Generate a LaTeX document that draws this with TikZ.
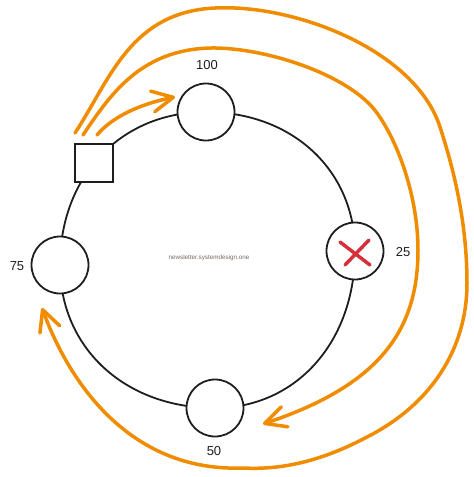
\documentclass[tikz,border=0pt]{standalone}
\usepackage{fontspec}
\setmainfont{Liberation Sans}
\usetikzlibrary{arrows.meta}
\definecolor{ring}{HTML}{1E1E1E}
\definecolor{orng}{HTML}{F08C00}
\definecolor{xred}{HTML}{D6313B}
\definecolor{wmark}{HTML}{7A6A66}
\tikzset{
  ringline/.style={draw=ring, line width=1.8pt},
  server/.style={circle, draw=ring, fill=white, line width=1.8pt, minimum size=57pt, inner sep=0pt},
  client/.style={rectangle, draw=ring, fill=white, line width=1.8pt, minimum size=38pt, inner sep=0pt},
  lbl/.style={font=\fontsize{13}{15}\selectfont, text=ring},
  flow/.style={draw=orng, line width=3.5pt, line cap=round, line join=round,
    -{Straight Barb[length=21pt, width=21pt, round]}},
  cross/.style={draw=xred, line width=3.5pt, line cap=round},
}
\begin{document}
\begin{tikzpicture}[x=1pt,y=-1pt]
\useasboundingbox (0,0) rectangle (474,477);
\fill[white] (0,0) rectangle (474,477);
% server positions
\coordinate (p100) at (206,112);
\coordinate (p25) at (355,251);
\coordinate (p50) at (215,408);
\coordinate (p75) at (60,265);
% ring
\draw[ringline] (p100) .. controls (292,112) and (355,170) .. (p25)
  .. controls (355,342) and (296,408) .. (p50)
  .. controls (125,408) and (60,348) .. (p75)
  .. controls (60,176) and (121,112) .. (p100);
% servers
\node[server] (s100) at (p100) {};
\node[server] (s75) at (p75) {};
\node[server] (s25) at (p25) {};
\node[server] (s50) at (p50) {};
\node[client] (cl) at (94,163) {};
% labels
\node[lbl] (l100) at (207,65) {100};
\node[lbl] (l25) at (403,252) {25};
\node[lbl] (l75) at (17,266) {75};
\node[lbl] (l50) at (214,451) {50};
\node[font=\fontsize{6.3}{7}\selectfont, text=wmark] (wm) at (209,258) {newsletter.systemdesign.one};
% failed server
\draw[cross] (340,242) -- (370,265);
\draw[cross] (369,240) -- (345,265);
% request flows
\coordinate (a1) at (97,135);
\coordinate (a2) at (83,135);
\coordinate (a3) at (75,133);
\coordinate (t1) at (175,97);
\coordinate (t2) at (263,424);
\coordinate (t3) at (42,308);
\draw[flow] (a1) .. controls (112,117) and (140,104) .. (t1);
\draw[flow] (a2) .. controls (110,95) and (140,50) .. (210,48)
  .. controls (265,47) and (350,75) .. (377,113)
  .. controls (400,145) and (418,200) .. (418,250)
  .. controls (418,330) and (380,385) .. (t2);
\draw[flow] (a3) .. controls (110,80) and (130,12) .. (215,8)
  .. controls (295,4) and (415,50) .. (440,127)
  .. controls (455,173) and (467,225) .. (467,283)
  .. controls (467,350) and (430,405) .. (367,437)
  .. controls (320,462) and (280,470) .. (243,468)
  .. controls (135,472) and (72,390) .. (t3);
\end{tikzpicture}
\end{document}
